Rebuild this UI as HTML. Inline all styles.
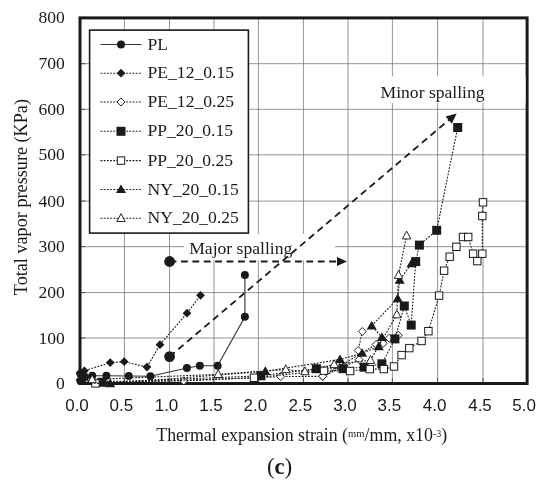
<!DOCTYPE html>
<html lang="en"><head><meta charset="utf-8"><title>Chart (c)</title>
<style>html,body{margin:0;padding:0;background:#fff}svg{display:block;filter:blur(0.3px)}</style></head>
<body>
<svg width="550" height="487" viewBox="0 0 550 487">
<rect width="550" height="487" fill="#fff"/>
<path d="M124.4 17.9 V383.5 M169.5 17.9 V383.5 M214.0 17.9 V383.5 M258.4 17.9 V383.5 M303.4 17.9 V383.5 M348.0 17.9 V383.5 M392.4 17.9 V383.5 M437.6 17.9 V383.5 M483.0 17.9 V383.5 M80.0 63.7 H527.1 M80.0 109.3 H527.1 M80.0 154.8 H527.1 M80.0 201.1 H527.1 M80.0 246.7 H527.1 M80.0 292.6 H527.1 M80.0 338.0 H527.1" stroke="#707070" stroke-width="0.75" fill="none"/>
<path d="M80.0 63.7 h5.5 M80.0 109.3 h5.5 M80.0 154.8 h5.5 M80.0 201.1 h5.5 M80.0 246.7 h5.5 M80.0 292.6 h5.5 M80.0 338.0 h5.5 M124.4 383.5 v-5.5 M169.5 383.5 v-5.5 M214.0 383.5 v-5.5 M258.4 383.5 v-5.5 M303.4 383.5 v-5.5 M348.0 383.5 v-5.5 M392.4 383.5 v-5.5 M437.6 383.5 v-5.5 M483.0 383.5 v-5.5" stroke="#555" stroke-width="1" fill="none"/>
<rect x="80.0" y="17.9" width="447.1" height="365.6" fill="none" stroke="#1a1a1a" stroke-width="3"/>
<g>
<path d="M80.5 381.0 L80.5 374.0 L85.0 377.0 L92.3 375.7 L106.4 375.8 L128.7 376.0 L150.4 376.2 L186.9 368.0 L199.8 365.7 L217.6 365.7 L244.9 316.8 L244.9 275.1" fill="none" stroke="#333" stroke-width="1.1"/>
<circle cx="80.5" cy="381.0" r="4.0" fill="#1a1a1a"/>
<circle cx="80.5" cy="374.0" r="4.0" fill="#1a1a1a"/>
<circle cx="85.0" cy="377.0" r="4.0" fill="#1a1a1a"/>
<circle cx="92.3" cy="375.7" r="4.0" fill="#1a1a1a"/>
<circle cx="106.4" cy="375.8" r="4.0" fill="#1a1a1a"/>
<circle cx="128.7" cy="376.0" r="4.0" fill="#1a1a1a"/>
<circle cx="150.4" cy="376.2" r="4.0" fill="#1a1a1a"/>
<circle cx="186.9" cy="368.0" r="4.0" fill="#1a1a1a"/>
<circle cx="199.8" cy="365.7" r="4.0" fill="#1a1a1a"/>
<circle cx="217.6" cy="365.7" r="4.0" fill="#1a1a1a"/>
<circle cx="244.9" cy="316.8" r="4.0" fill="#1a1a1a"/>
<circle cx="244.9" cy="275.1" r="4.0" fill="#1a1a1a"/>
<path d="M80.0 380.0 L80.0 373.0 L84.4 370.8 L110.2 362.6 L124.2 361.7 L146.9 367.1 L160.0 344.7 L187.0 313.2 L200.5 295.3" fill="none" stroke="#1a1a1a" stroke-width="1.1" stroke-dasharray="1.8 1.4"/>
<path d="M80.0 375.6 L84.4 380.0 L80.0 384.4 L75.6 380.0Z" fill="#1a1a1a"/>
<path d="M80.0 368.6 L84.4 373.0 L80.0 377.4 L75.6 373.0Z" fill="#1a1a1a"/>
<path d="M84.4 366.4 L88.8 370.8 L84.4 375.2 L80.0 370.8Z" fill="#1a1a1a"/>
<path d="M110.2 358.2 L114.6 362.6 L110.2 367.0 L105.8 362.6Z" fill="#1a1a1a"/>
<path d="M124.2 357.3 L128.6 361.7 L124.2 366.1 L119.8 361.7Z" fill="#1a1a1a"/>
<path d="M146.9 362.7 L151.3 367.1 L146.9 371.5 L142.5 367.1Z" fill="#1a1a1a"/>
<path d="M160.0 340.3 L164.4 344.7 L160.0 349.1 L155.6 344.7Z" fill="#1a1a1a"/>
<path d="M187.0 308.8 L191.4 313.2 L187.0 317.6 L182.6 313.2Z" fill="#1a1a1a"/>
<path d="M200.5 290.9 L204.9 295.3 L200.5 299.7 L196.1 295.3Z" fill="#1a1a1a"/>
<path d="M81.0 381.5 L183.7 380.9 L280.7 376.6 L322.7 376.3 L376.1 344.4 L383.2 343.3 L389.2 338.2 L398.3 335.3 M322.7 376.3 L359.1 359.7 L358.2 350.5 L362.3 331.5" fill="none" stroke="#1a1a1a" stroke-width="1.1" stroke-dasharray="1.8 1.4"/>
<path d="M183.7 376.9 L187.7 380.9 L183.7 384.9 L179.7 380.9Z" fill="#fff" stroke="#1a1a1a" stroke-width="0.95"/>
<path d="M280.7 372.6 L284.7 376.6 L280.7 380.6 L276.7 376.6Z" fill="#fff" stroke="#1a1a1a" stroke-width="0.95"/>
<path d="M322.7 372.3 L326.7 376.3 L322.7 380.3 L318.7 376.3Z" fill="#fff" stroke="#1a1a1a" stroke-width="0.95"/>
<path d="M376.1 340.4 L380.1 344.4 L376.1 348.4 L372.1 344.4Z" fill="#fff" stroke="#1a1a1a" stroke-width="0.95"/>
<path d="M383.2 339.3 L387.2 343.3 L383.2 347.3 L379.2 343.3Z" fill="#fff" stroke="#1a1a1a" stroke-width="0.95"/>
<path d="M389.2 334.2 L393.2 338.2 L389.2 342.2 L385.2 338.2Z" fill="#fff" stroke="#1a1a1a" stroke-width="0.95"/>
<path d="M398.3 331.3 L402.3 335.3 L398.3 339.3 L394.3 335.3Z" fill="#fff" stroke="#1a1a1a" stroke-width="0.95"/>
<path d="M322.7 372.3 L326.7 376.3 L322.7 380.3 L318.7 376.3Z" fill="#fff" stroke="#1a1a1a" stroke-width="0.95"/>
<path d="M359.1 355.7 L363.1 359.7 L359.1 363.7 L355.1 359.7Z" fill="#fff" stroke="#1a1a1a" stroke-width="0.95"/>
<path d="M358.2 346.5 L362.2 350.5 L358.2 354.5 L354.2 350.5Z" fill="#fff" stroke="#1a1a1a" stroke-width="0.95"/>
<path d="M362.3 327.5 L366.3 331.5 L362.3 335.5 L358.3 331.5Z" fill="#fff" stroke="#1a1a1a" stroke-width="0.95"/>
<path d="M81.0 382.5 L102.0 382.3 L260.9 375.8 L316.4 368.7 L343.0 368.7 L364.1 367.2 L381.9 363.8 L394.9 338.9 L404.3 306.0 L411.2 325.1 L415.7 261.6 L419.4 245.1 L436.7 230.3 L457.7 127.5" fill="none" stroke="#1a1a1a" stroke-width="1.1" stroke-dasharray="1.8 1.4"/>
<rect x="97.5" y="377.8" width="9" height="9" fill="#1a1a1a"/>
<rect x="256.4" y="371.3" width="9" height="9" fill="#1a1a1a"/>
<rect x="311.9" y="364.2" width="9" height="9" fill="#1a1a1a"/>
<rect x="338.5" y="364.2" width="9" height="9" fill="#1a1a1a"/>
<rect x="359.6" y="362.7" width="9" height="9" fill="#1a1a1a"/>
<rect x="377.4" y="359.3" width="9" height="9" fill="#1a1a1a"/>
<rect x="390.4" y="334.4" width="9" height="9" fill="#1a1a1a"/>
<rect x="399.8" y="301.5" width="9" height="9" fill="#1a1a1a"/>
<rect x="406.7" y="320.6" width="9" height="9" fill="#1a1a1a"/>
<rect x="411.2" y="257.1" width="9" height="9" fill="#1a1a1a"/>
<rect x="414.9" y="240.6" width="9" height="9" fill="#1a1a1a"/>
<rect x="432.2" y="225.8" width="9" height="9" fill="#1a1a1a"/>
<rect x="453.2" y="123.0" width="9" height="9" fill="#1a1a1a"/>
<path d="M81.0 383.0 L95.5 383.4 L254.0 377.8 L324.0 370.7 L350.1 371.0 L369.8 369.1 L383.8 369.1 L394.0 366.5 L401.6 355.1 L409.3 348.1 L421.6 341.0 L428.4 331.2 L439.1 295.6 L444.1 270.7 L449.7 256.7 L456.4 246.8 L463.0 237.0 L468.2 237.0 L473.1 253.7 L477.3 261.1 L482.3 253.7 L482.3 216.0 L483.0 202.3" fill="none" stroke="#1a1a1a" stroke-width="1.1" stroke-dasharray="1.8 1.4"/>
<rect x="91.8" y="379.7" width="7.4" height="7.4" fill="#fff" stroke="#1a1a1a" stroke-width="1.0"/>
<rect x="250.3" y="374.1" width="7.4" height="7.4" fill="#fff" stroke="#1a1a1a" stroke-width="1.0"/>
<rect x="320.3" y="367.0" width="7.4" height="7.4" fill="#fff" stroke="#1a1a1a" stroke-width="1.0"/>
<rect x="346.4" y="367.3" width="7.4" height="7.4" fill="#fff" stroke="#1a1a1a" stroke-width="1.0"/>
<rect x="366.1" y="365.4" width="7.4" height="7.4" fill="#fff" stroke="#1a1a1a" stroke-width="1.0"/>
<rect x="380.1" y="365.4" width="7.4" height="7.4" fill="#fff" stroke="#1a1a1a" stroke-width="1.0"/>
<rect x="390.3" y="362.8" width="7.4" height="7.4" fill="#fff" stroke="#1a1a1a" stroke-width="1.0"/>
<rect x="397.9" y="351.4" width="7.4" height="7.4" fill="#fff" stroke="#1a1a1a" stroke-width="1.0"/>
<rect x="405.6" y="344.4" width="7.4" height="7.4" fill="#fff" stroke="#1a1a1a" stroke-width="1.0"/>
<rect x="417.9" y="337.3" width="7.4" height="7.4" fill="#fff" stroke="#1a1a1a" stroke-width="1.0"/>
<rect x="424.7" y="327.5" width="7.4" height="7.4" fill="#fff" stroke="#1a1a1a" stroke-width="1.0"/>
<rect x="435.4" y="291.9" width="7.4" height="7.4" fill="#fff" stroke="#1a1a1a" stroke-width="1.0"/>
<rect x="440.4" y="267.0" width="7.4" height="7.4" fill="#fff" stroke="#1a1a1a" stroke-width="1.0"/>
<rect x="446.0" y="253.0" width="7.4" height="7.4" fill="#fff" stroke="#1a1a1a" stroke-width="1.0"/>
<rect x="452.7" y="243.1" width="7.4" height="7.4" fill="#fff" stroke="#1a1a1a" stroke-width="1.0"/>
<rect x="459.3" y="233.3" width="7.4" height="7.4" fill="#fff" stroke="#1a1a1a" stroke-width="1.0"/>
<rect x="464.5" y="233.3" width="7.4" height="7.4" fill="#fff" stroke="#1a1a1a" stroke-width="1.0"/>
<rect x="469.4" y="250.0" width="7.4" height="7.4" fill="#fff" stroke="#1a1a1a" stroke-width="1.0"/>
<rect x="473.6" y="257.4" width="7.4" height="7.4" fill="#fff" stroke="#1a1a1a" stroke-width="1.0"/>
<rect x="478.6" y="250.0" width="7.4" height="7.4" fill="#fff" stroke="#1a1a1a" stroke-width="1.0"/>
<rect x="478.6" y="212.3" width="7.4" height="7.4" fill="#fff" stroke="#1a1a1a" stroke-width="1.0"/>
<rect x="479.3" y="198.6" width="7.4" height="7.4" fill="#fff" stroke="#1a1a1a" stroke-width="1.0"/>
<path d="M81.0 383.0 L110.2 383.6 L265.3 371.3 L340.0 359.5 L362.2 353.2 L378.7 346.6 L381.9 337.3 L371.7 325.8 L397.7 298.6 L399.7 280.1 L411.5 263.6" fill="none" stroke="#1a1a1a" stroke-width="1.1" stroke-dasharray="1.8 1.4"/>
<path d="M110.2 378.6 L115.2 387.2 L105.2 387.2Z" fill="#1a1a1a"/>
<path d="M265.3 366.3 L270.3 374.9 L260.3 374.9Z" fill="#1a1a1a"/>
<path d="M340.0 354.5 L345.0 363.1 L335.0 363.1Z" fill="#1a1a1a"/>
<path d="M362.2 348.2 L367.2 356.8 L357.2 356.8Z" fill="#1a1a1a"/>
<path d="M378.7 341.6 L383.7 350.2 L373.7 350.2Z" fill="#1a1a1a"/>
<path d="M381.9 332.3 L386.9 340.9 L376.9 340.9Z" fill="#1a1a1a"/>
<path d="M371.7 320.8 L376.7 329.4 L366.7 329.4Z" fill="#1a1a1a"/>
<path d="M397.7 293.6 L402.7 302.2 L392.7 302.2Z" fill="#1a1a1a"/>
<path d="M399.7 275.1 L404.7 283.7 L394.7 283.7Z" fill="#1a1a1a"/>
<path d="M411.5 258.6 L416.5 267.2 L406.5 267.2Z" fill="#1a1a1a"/>
<path d="M81.0 382.0 L92.2 379.5 L218.2 374.3 L285.8 369.5 L304.9 371.5 L334.2 364.4 L370.5 360.2 L396.8 314.6 L398.5 275.2 L406.6 235.7" fill="none" stroke="#1a1a1a" stroke-width="1.1" stroke-dasharray="1.8 1.4"/>
<path d="M92.2 374.9 L96.4 382.7 L88.0 382.7Z" fill="#fff" stroke="#1a1a1a" stroke-width="0.95"/>
<path d="M218.2 369.7 L222.4 377.5 L214.0 377.5Z" fill="#fff" stroke="#1a1a1a" stroke-width="0.95"/>
<path d="M285.8 364.9 L290.0 372.7 L281.6 372.7Z" fill="#fff" stroke="#1a1a1a" stroke-width="0.95"/>
<path d="M304.9 366.9 L309.1 374.7 L300.7 374.7Z" fill="#fff" stroke="#1a1a1a" stroke-width="0.95"/>
<path d="M334.2 359.8 L338.4 367.6 L330.0 367.6Z" fill="#fff" stroke="#1a1a1a" stroke-width="0.95"/>
<path d="M370.5 355.6 L374.7 363.4 L366.3 363.4Z" fill="#fff" stroke="#1a1a1a" stroke-width="0.95"/>
<path d="M396.8 310.0 L401.0 317.8 L392.6 317.8Z" fill="#fff" stroke="#1a1a1a" stroke-width="0.95"/>
<path d="M398.5 270.6 L402.7 278.4 L394.3 278.4Z" fill="#fff" stroke="#1a1a1a" stroke-width="0.95"/>
<path d="M406.6 231.1 L410.8 238.9 L402.4 238.9Z" fill="#fff" stroke="#1a1a1a" stroke-width="0.95"/>
<rect x="184" y="234" width="151" height="26.3" fill="#fff"/>
<rect x="374.5" y="76.4" width="151" height="26.6" fill="#fff"/>
<path d="M169.6 356.6 L449.5 119.5" fill="none" stroke="#1a1a1a" stroke-width="1.8" stroke-dasharray="6.8 4.6"/>
<path d="M169.6 261.5 H337" fill="none" stroke="#1a1a1a" stroke-width="1.8" stroke-dasharray="6.8 4.6"/>
<path d="M347 261.5 L337 257 L337 266Z" fill="#1a1a1a"/>
<path d="M456.6 113.4 L451.8 123.8 L445.6 116.6Z" fill="#1a1a1a"/>
<circle cx="169.6" cy="261.5" r="5.4" fill="#1a1a1a"/>
<circle cx="169.6" cy="356.6" r="5.4" fill="#1a1a1a"/>
</g>
<rect x="89.6" y="30.1" width="158.8" height="203" fill="#fff" stroke="#1a1a1a" stroke-width="1.6"/>
<path d="M100.5 44.5 L141.5 44.5" fill="none" stroke="#333" stroke-width="1.1"/>
<circle cx="121.0" cy="44.5" r="4.0" fill="#1a1a1a"/>
<text x="147.5" y="49.5" font-family='"Liberation Serif", serif' font-size="17.6" fill="#1a1a1a">PL</text>
<path d="M100.5 73.2 L141.5 73.2" fill="none" stroke="#1a1a1a" stroke-width="1.1" stroke-dasharray="1.8 1.4"/>
<path d="M121.0 68.8 L125.4 73.2 L121.0 77.6 L116.6 73.2Z" fill="#1a1a1a"/>
<text x="147.5" y="78.2" font-family='"Liberation Serif", serif' font-size="17.6" fill="#1a1a1a">PE_12_0.15</text>
<path d="M100.5 102.0 L141.5 102.0" fill="none" stroke="#1a1a1a" stroke-width="1.1" stroke-dasharray="1.8 1.4"/>
<path d="M121.0 98.0 L125.0 102.0 L121.0 106.0 L117.0 102.0Z" fill="#fff" stroke="#1a1a1a" stroke-width="0.95"/>
<text x="147.5" y="107.0" font-family='"Liberation Serif", serif' font-size="17.6" fill="#1a1a1a">PE_12_0.25</text>
<path d="M100.5 131.3 L141.5 131.3" fill="none" stroke="#1a1a1a" stroke-width="1.1" stroke-dasharray="1.8 1.4"/>
<rect x="116.5" y="126.8" width="9" height="9" fill="#1a1a1a"/>
<text x="147.5" y="136.3" font-family='"Liberation Serif", serif' font-size="17.6" fill="#1a1a1a">PP_20_0.15</text>
<path d="M100.5 160.6 L141.5 160.6" fill="none" stroke="#1a1a1a" stroke-width="1.1" stroke-dasharray="1.8 1.4"/>
<rect x="117.3" y="156.9" width="7.4" height="7.4" fill="#fff" stroke="#1a1a1a" stroke-width="1.0"/>
<text x="147.5" y="165.6" font-family='"Liberation Serif", serif' font-size="17.6" fill="#1a1a1a">PP_20_0.25</text>
<path d="M100.5 189.5 L141.5 189.5" fill="none" stroke="#1a1a1a" stroke-width="1.1" stroke-dasharray="1.8 1.4"/>
<path d="M121.0 184.5 L126.0 193.1 L116.0 193.1Z" fill="#1a1a1a"/>
<text x="147.5" y="194.5" font-family='"Liberation Serif", serif' font-size="17.6" fill="#1a1a1a">NY_20_0.15</text>
<path d="M100.5 218.3 L141.5 218.3" fill="none" stroke="#1a1a1a" stroke-width="1.1" stroke-dasharray="1.8 1.4"/>
<path d="M121.0 213.7 L125.2 221.5 L116.8 221.5Z" fill="#fff" stroke="#1a1a1a" stroke-width="0.95"/>
<text x="147.5" y="223.3" font-family='"Liberation Serif", serif' font-size="17.6" fill="#1a1a1a">NY_20_0.25</text>
<text x="189.2" y="254.3" font-family='"Liberation Serif", serif' font-size="17.6" fill="#1a1a1a">Major spalling</text>
<text x="380.5" y="98.1" font-family='"Liberation Serif", serif' font-size="17.6" fill="#1a1a1a">Minor spalling</text>
<text x="64.8" y="389.0" text-anchor="end" font-family='"Liberation Serif", serif' font-size="17.6" fill="#1a1a1a">0</text>
<text x="64.8" y="343.5" text-anchor="end" font-family='"Liberation Serif", serif' font-size="17.6" fill="#1a1a1a">100</text>
<text x="64.8" y="298.1" text-anchor="end" font-family='"Liberation Serif", serif' font-size="17.6" fill="#1a1a1a">200</text>
<text x="64.8" y="252.2" text-anchor="end" font-family='"Liberation Serif", serif' font-size="17.6" fill="#1a1a1a">300</text>
<text x="64.8" y="206.6" text-anchor="end" font-family='"Liberation Serif", serif' font-size="17.6" fill="#1a1a1a">400</text>
<text x="64.8" y="160.3" text-anchor="end" font-family='"Liberation Serif", serif' font-size="17.6" fill="#1a1a1a">500</text>
<text x="64.8" y="114.8" text-anchor="end" font-family='"Liberation Serif", serif' font-size="17.6" fill="#1a1a1a">600</text>
<text x="64.8" y="69.2" text-anchor="end" font-family='"Liberation Serif", serif' font-size="17.6" fill="#1a1a1a">700</text>
<text x="64.8" y="23.4" text-anchor="end" font-family='"Liberation Serif", serif' font-size="17.6" fill="#1a1a1a">800</text>
<text x="77.0" y="411" text-anchor="middle" font-family='"Liberation Sans", sans-serif' font-size="17" fill="#1a1a1a">0.0</text>
<text x="121.4" y="411" text-anchor="middle" font-family='"Liberation Sans", sans-serif' font-size="17" fill="#1a1a1a">0.5</text>
<text x="166.5" y="411" text-anchor="middle" font-family='"Liberation Sans", sans-serif' font-size="17" fill="#1a1a1a">1.0</text>
<text x="211.0" y="411" text-anchor="middle" font-family='"Liberation Sans", sans-serif' font-size="17" fill="#1a1a1a">1.5</text>
<text x="255.4" y="411" text-anchor="middle" font-family='"Liberation Sans", sans-serif' font-size="17" fill="#1a1a1a">2.0</text>
<text x="300.4" y="411" text-anchor="middle" font-family='"Liberation Sans", sans-serif' font-size="17" fill="#1a1a1a">2.5</text>
<text x="345.0" y="411" text-anchor="middle" font-family='"Liberation Sans", sans-serif' font-size="17" fill="#1a1a1a">3.0</text>
<text x="389.4" y="411" text-anchor="middle" font-family='"Liberation Sans", sans-serif' font-size="17" fill="#1a1a1a">3.5</text>
<text x="434.6" y="411" text-anchor="middle" font-family='"Liberation Sans", sans-serif' font-size="17" fill="#1a1a1a">4.0</text>
<text x="480.0" y="411" text-anchor="middle" font-family='"Liberation Sans", sans-serif' font-size="17" fill="#1a1a1a">4.5</text>
<text x="524.1" y="411" text-anchor="middle" font-family='"Liberation Sans", sans-serif' font-size="17" fill="#1a1a1a">5.0</text>
<text x="156.3" y="440.7" font-family='"Liberation Serif", serif' font-size="17.85" fill="#1a1a1a">Thermal expansion strain (<tspan font-size="10.6" dy="-3.7">mm</tspan><tspan dy="3.7">/mm, x10</tspan><tspan font-size="10" dy="-3.6">-3</tspan><tspan dy="3.6">)</tspan></text>
<text transform="translate(27.4 295.2) rotate(-90)" font-family='"Liberation Serif", serif' font-size="18.2" fill="#1a1a1a">Total vapor pressure (KPa)</text>
<text x="279.6" y="473.8" text-anchor="middle" font-family='"Liberation Serif", serif' font-size="23" fill="#1a1a1a">(<tspan font-weight="bold" font-size="22.5">c</tspan>)</text>
</svg>
</body></html>
